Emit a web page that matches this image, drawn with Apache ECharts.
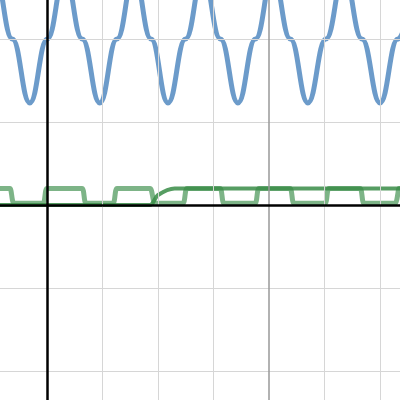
<!DOCTYPE html>
<html><head><meta charset="utf-8">
<script src="https://cdn.jsdelivr.net/npm/echarts@6/dist/echarts.min.js"></script>
<style>html,body{margin:0;padding:0;background:#fff}#c{width:400px;height:400px}</style>
</head><body><div id="c"></div>
<script>
// blue wave: [x, y]
var blueX = [-1.26,-0.94,-0.625,-0.31,0.005,0.32,0.635,0.95,1.26,1.57,1.875,2.18,2.495,2.81,3.125,3.44,3.755,4.07,4.385,4.70,5.025,5.35,5.675,6.00,6.32,6.64]
var blueY = [2.0,2.77,2.0,1.23,2.0,2.77,2.0,1.23,2.0,2.77,2.0,1.23,2.0,2.77,2.0,1.23,2.0,2.77,2.0,1.23,2.0,2.77,2.0,1.23,2.0,2.77]
// light green pulses
var lightX = [-0.847,-0.667,-0.595,-0.072,0,0.631,0.703,1.189,1.261,1.856,1.946,2.45,2.523,3.117,3.189,3.748,3.82,4.378,4.45,5.009,5.081,5.64,5.712,6.27,6.342,6.36]
var lightY = [0.2,0.2,0.02,0.02,0.2,0.2,0.02,0.02,0.2,0.2,0.02,0.02,0.2,0.2,0.02,0.02,0.2,0.2,0.02,0.02,0.2,0.2,0.02,0.02,0.2,0.2]
// dark green step
var darkX = [-0.847,1.85,2.0,2.3,6.36]
var darkY = [0,0,0.12,0.2,0.2]
var gridX = [1,2,3,5,6]
var gridY = [-2,-1,1,2]

function pairs(xs,ys){ return xs.map(function(x,i){ return [x,ys[i]] }) }

var lines = []
gridX.forEach(function(v){ lines.push({xAxis:v, lineStyle:{color:'#d6d6d6',width:1,type:'solid'}}) })
gridY.forEach(function(v){ lines.push({yAxis:v, lineStyle:{color:'#d6d6d6',width:1,type:'solid'}}) })
lines.push({xAxis:4, lineStyle:{color:'#999',width:1.5,type:'solid'}})
lines.push({xAxis:0, lineStyle:{color:'#000',width:2.5,type:'solid'}})
lines.push({yAxis:0, lineStyle:{color:'#000',width:2.5,type:'solid'}})

var option = {
    animation: false,
    backgroundColor: '#fff',
    grid: {left:0,right:0,top:0,bottom:0},
    xAxis: {type:'value',min:-0.847,max:6.36,show:false},
    yAxis: {type:'value',min:-2.35,max:2.47,show:false},
    series: [
        {type:'line',data:[],silent:true,
         markLine:{symbol:'none',label:{show:false},silent:true,data:lines}},
        {type:'line',data:pairs(blueX,blueY),smooth:0.45,smoothMonotone:'x',showSymbol:false,
         lineStyle:{color:'#2d70b3',width:5,opacity:0.7}},
        {type:'line',data:pairs(lightX,lightY),smooth:0.2,showSymbol:false,
         lineStyle:{color:'#388c46',width:5,opacity:0.65}},
        {type:'line',data:pairs(darkX,darkY),smooth:0.3,showSymbol:false,
         lineStyle:{color:'#388c46',width:4,opacity:0.85}}
    ]
}
var myChart = echarts.init(document.getElementById('c'))
myChart.setOption(option)
</script></body></html>
